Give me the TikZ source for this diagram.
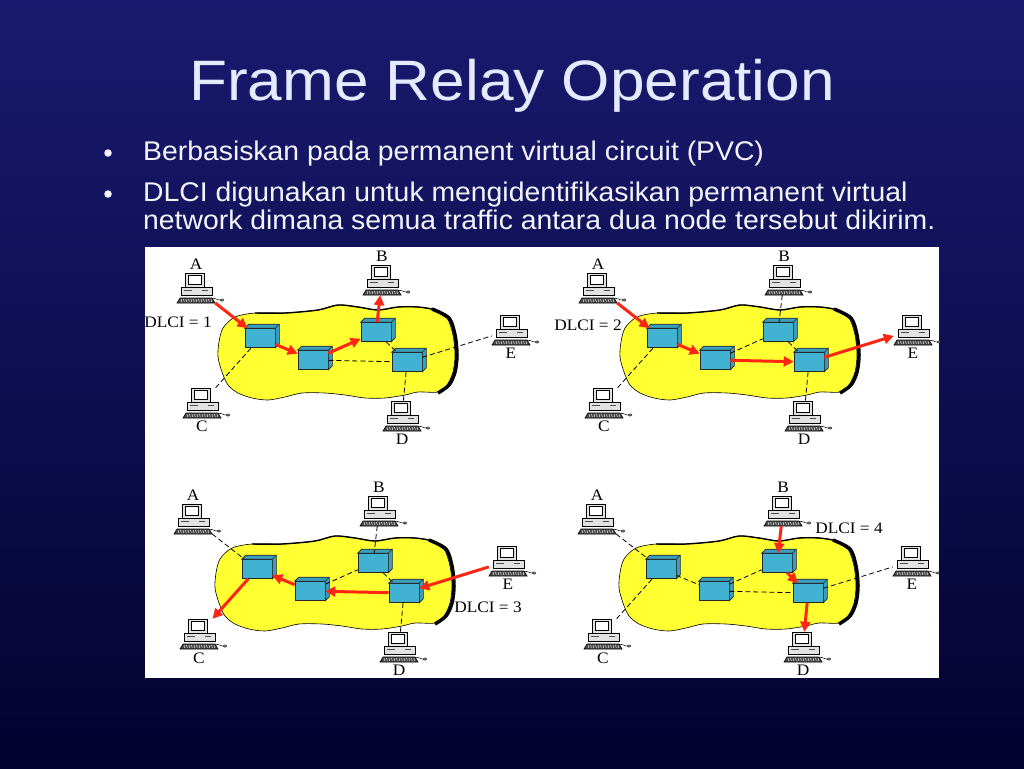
\documentclass[tikz,border=0pt]{standalone}
\usepackage{fontspec}
\setmainfont{Liberation Serif}
\newfontfamily\slidefont{Liberation Sans}
\usetikzlibrary{arrows.meta,calc}
\definecolor{slidetop}{RGB}{26,26,112}
\definecolor{slidebot}{RGB}{2,2,48}
\definecolor{titlefg}{RGB}{228,234,255}
\definecolor{itemfg}{RGB}{244,244,255}
\definecolor{cloudyel}{RGB}{255,255,50}
\definecolor{swcyan}{RGB}{66,178,210}
\definecolor{flowred}{RGB}{255,38,20}
\definecolor{pcgray}{RGB}{226,226,226}

\tikzset{
  title/.style={font=\slidefont\fontsize{57}{60}\selectfont, text=titlefg, xscale=1.09, inner sep=0pt},
  item/.style={font=\slidefont\fontsize{27}{30}\selectfont, text=itemfg, xscale=1.05, inner sep=0pt},
  bullet/.style={circle, fill=itemfg, inner sep=0pt, minimum size=7.5pt},
  pc/.style={minimum width=38pt, minimum height=30pt, inner sep=0pt},
  lbl/.style={font=\fontsize{16}{16}\selectfont, inner sep=1pt, xscale=1.08},
  dlci/.style={font=\fontsize{16}{16}\selectfont, inner sep=0pt, xscale=1.08},
  sw/.style={draw=black!85, line width=0.6pt, fill=swcyan, minimum width=30pt, minimum height=19pt, inner sep=0pt},
  swface/.style={draw=black!85, line width=0.6pt, fill=swcyan!88!black},
  link/.style={dash pattern=on 5pt off 3pt, line width=0.8pt},
  flow/.style={draw=flowred, line width=3pt, -{Triangle[length=10pt,width=10pt]}},
  computer/.pic={
    \draw[line width=0.6pt, fill=pcgray] (-15,-1) rectangle (16,7);
    \fill[black!70] (-12,1.5) rectangle (-4,3);
    \fill[black!70] (6,1.5) rectangle (12,3);
    \draw[line width=0.6pt, fill=pcgray] (-11,-15) rectangle (8,-1);
    \draw[line width=0.5pt, fill=white] (-8,-13) rectangle (5,-4);
    \draw[line width=0.6pt, fill=black!70] (-16,10) -- (16,10) -- (19,15) -- (-19,15) -- cycle;
    \foreach \k in {-15,-12.5,...,16} \draw[white, line width=0.4pt] (\k,11) -- (\k+0.8,14);
    \draw[line width=0.5pt] (16,11) .. controls (20,9) and (22,13) .. (25,12);
    \draw[line width=0.5pt, fill=pcgray] (26,12) ellipse (1.8 and 1.2);
  },
}

% one frame relay cloud with its switches and end stations
\newcommand{\frnet}{%
  \draw[fill=cloudyel, line width=0.6pt] plot[smooth cycle] coordinates {(235,317) (255,313) (285,313) (318,310) (338,305) (358,307) (378,310) (398,307) (418,307) (435,310) (447,318) (453,335) (455,355) (453,372) (447,385) (438,392) (418,392) (405,395) (385,398) (365,398) (345,395) (325,393) (302,393) (285,397) (268,400) (252,398) (238,393) (228,385) (222,372) (218,357) (219,342) (223,328)};
  \draw[line width=1.4pt] plot[smooth] coordinates {(255,313) (285,313) (318,310) (338,305) (358,307) (378,310) (398,307) (418,307) (435,310) (447,318)};
  \draw[line width=3.5pt, shift={(2,0)}] plot[smooth] coordinates {(430,309) (447,318) (453,335) (455,355) (453,372) (447,385) (436,393)};
  \foreach \n/\x/\y in {s1/260/338, s2/313/360, s3/376/332, s4/407/362}{
    \node[sw] (\n) at (\x,\y) {};
    \draw[swface] (\n.north west) -- ++(4,-4) -| ([shift={(4,-4)}]\n.south east) -- (\n.south east) -- (\n.north east) -- cycle;
    \draw[swface] (\n.north east) -- ++(4,-4);
  }
  \foreach \n/\t/\x/\y/\p in {a/A/196/288/above, b/B/382/280/above, c/C/202/403/below, d/D/402/416/below, e/E/511/330/below}{
    \node[pc, label={[lbl, label distance=2pt]\p:\t}] (\n) at (\x,\y) {};
    \pic at (\n) {computer};
  }%
}

\begin{document}
\begin{tikzpicture}[x=1pt,y=-1pt]
  % slide
  \shade[top color=slidetop, bottom color=slidebot] (0,0) rectangle (1024,768);
  \node[title, anchor=base] (title) at (512,100) {Frame Relay Operation};
  \node[bullet] (dot1) at (108,153) {};
  \node[item, anchor=base west] (item1) at (143,160) {Berbasiskan pada permanent virtual circuit (PVC)};
  \node[bullet] (dot2) at (108,194) {};
  \node[item, anchor=base west] (item2) at (143,201) {DLCI digunakan untuk mengidentifikasikan permanent virtual};
  \node[item, anchor=base west] (item3) at (143,229) {network dimana semua traffic antara dua node tersebut dikirim.};
  \fill[white] (145,247) rectangle (939,678);

  % A to B
  \begin{scope}[name prefix=q1-]
    \frnet
    \foreach \u/\v in {c/s1, s2/s4, s3/s4, s4/e, s4/d} \draw[link] (\u) -- (\v);
    \foreach \u/\v in {a/s1, s1/s2, s2/s3, s3/b} \draw[flow] (\u) -- (\v);
    \node[dlci] (dlci) at (178,322) {DLCI = 1};
  \end{scope}

  % A to E
  \begin{scope}[name prefix=q2-, shift={(402,0)}]
    \frnet
    \foreach \u/\v in {c/s1, s2/s3, b/s3, s3/s4, s4/d} \draw[link] (\u) -- (\v);
    \foreach \u/\v in {a/s1, s1/s2, s2/s4, s4/e} \draw[flow] (\u) -- (\v);
    \node[dlci] (dlci) at (186,325) {DLCI = 2};
  \end{scope}

  % E to C
  \begin{scope}[name prefix=q3-, shift={(-3,231)}]
    \frnet
    \foreach \u/\v in {a/s1, s2/s3, b/s3, s3/s4, s4/d} \draw[link] (\u) -- (\v);
    \foreach \u/\v in {e/s4, s4/s2, s2/s1, s1/c} \draw[flow] (\u) -- (\v);
    \node[dlci] (dlci) at (491,376) {DLCI = 3};
  \end{scope}

  % B to D
  \begin{scope}[name prefix=q4-, shift={(401,231)}]
    \frnet
    \foreach \u/\v in {a/s1, c/s1, s1/s2, s2/s3, s2/s4, s4/e} \draw[link] (\u) -- (\v);
    \foreach \u/\v in {b/s3, s3/s4, s4/d} \draw[flow] (\u) -- (\v);
    \node[dlci] (dlci) at (448,297) {DLCI = 4};
  \end{scope}
\end{tikzpicture}
\end{document}
